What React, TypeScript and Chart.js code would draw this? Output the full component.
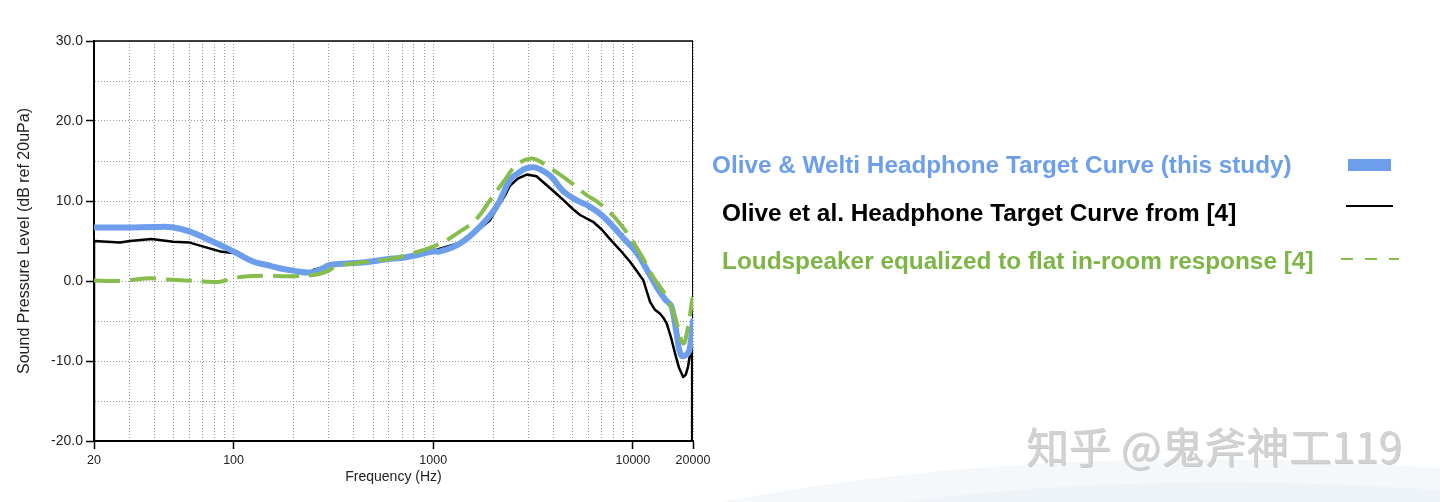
import React, { useEffect, useLayoutEffect, useRef } from "react";
import { Chart, registerables } from "chart.js";

Chart.register(...registerables);

// ---- data ----
const seriesNames = [
  "Olive & Welti Headphone Target Curve (this study)",
  "Olive et al. Headphone Target Curve from [4]",
  "Loudspeaker equalized to flat in-room response [4]",
];

const owFreq = [20, 30, 40, 50, 60, 79, 100, 126, 147, 170, 199, 241, 270, 304, 368, 444, 542, 628, 706, 850, 1000, 1084, 1364, 1716, 2074, 2420, 2700, 2936, 3230, 3690, 3980, 4490, 5220, 6080, 7000, 7960, 9000, 10460, 12000, 13120, 14500, 15600, 16540, 17480, 18900, 19500, 20000];
const owDb = [6.7, 6.7, 6.75, 6.7, 6.2, 4.9, 3.7, 2.4, 2.0, 1.6, 1.3, 1.05, 1.4, 2.0, 2.2, 2.3, 2.6, 2.8, 2.9, 3.3, 3.7, 3.7, 4.7, 6.8, 9.3, 12.6, 13.6, 14.1, 14.2, 13.5, 12.8, 11.2, 10.1, 9.3, 8.2, 6.8, 5.3, 3.5, 1.0, -0.7, -2.3, -3.2, -6.5, -9.3, -9.0, -7.5, -5.0];

const olFreq = [20, 20, 27, 30.3, 38.9, 49.8, 60.4, 70.6, 85.6, 100, 113, 126, 147, 170, 199, 241, 252, 300, 368, 444, 542, 706, 850, 1000, 1364, 1716, 1925, 2100, 2290, 2420, 2650, 2936, 3290, 3690, 4100, 4490, 5000, 5440, 6320, 7000, 7640, 8600, 9680, 10500, 11280, 11800, 12190, 12900, 13700, 14300, 14760, 15500, 16240, 17000, 17860, 18400, 18900, 19460, 19800, 19800];
const olDb = [-20, 5.0, 4.8, 5.0, 5.25, 4.9, 4.8, 4.3, 3.7, 3.5, 2.8, 2.3, 1.9, 1.6, 1.3, 1.05, 1.4, 1.9, 2.1, 2.3, 2.7, 3.0, 3.4, 3.8, 4.8, 6.6, 7.6, 9.2, 10.7, 11.9, 12.8, 13.3, 13.1, 12.0, 11.0, 10.1, 9.0, 8.25, 7.4, 6.4, 5.3, 3.9, 2.4, 1.2, 0.1, -1.5, -2.6, -3.6, -4.1, -4.7, -5.3, -7.0, -9.0, -10.8, -12.0, -11.7, -10.7, -8.6, -7.5, -20];

const lsFreq = [20, 24.9, 30, 38, 45, 54, 70.6, 85.6, 104, 147, 184, 252, 292, 330, 400, 500, 600, 734, 1044, 1364, 1652, 1925, 2250, 2612, 3100, 3500, 3980, 4840, 5860, 6820, 8600, 10840, 12640, 14760, 16240, 17860, 18900, 19800, 20000];
const lsDb = [0.05, 0.0, 0.1, 0.33, 0.2, 0.1, -0.05, -0.1, 0.45, 0.67, 0.6, 0.75, 1.16, 1.9, 2.2, 2.5, 2.7, 3.25, 4.5, 6.2, 7.8, 10.1, 12.4, 14.5, 15.3, 14.8, 13.9, 12.4, 10.75, 9.7, 7.2, 3.5, 0.5, -2.0, -4.5, -7.8, -5.7, -2.4, -2.0];

const xGridTicks = [20, 30, 40, 50, 60, 70, 80, 90, 100, 200, 300, 400, 500, 600, 700, 800, 900, 1000, 2000, 3000, 4000, 5000, 6000, 7000, 8000, 9000, 10000, 20000];
const xLabelTicks = [20, 100, 1000, 10000, 20000];
const yTicks = [-20, -15, -10, -5, 0, 5, 10, 15, 20, 25, 30];
const yLabelTicks = [-20, -10, 0, 10, 20, 30];

const xTitle = "Frequency (Hz)";
const yTitle = "Sound Pressure Level (dB ref 20uPa)";
const watermark = "知乎 @鬼斧神工119";

// ---- styles ----
const BLUE = "#6D9EEB";
const GREEN = "#86BD4C";
const FONT = "'Liberation Sans', Arial, sans-serif";

const legendX = [712, 722, 722];
const legendW = [580, 514, 591];
const legendY = [165, 213, 261];
const legendColor = [BLUE, "#000", "#7DB546"];

const framePlugin = {
  id: "frame",
  beforeDatasetsDraw(chart: any) {
    const { ctx, chartArea } = chart;
    const { left, right, top, bottom } = chartArea;
    ctx.save();
    ctx.strokeStyle = "#000";
    ctx.lineWidth = 1.5;
    ctx.beginPath();
    ctx.moveTo(left, top);
    ctx.lineTo(right, top);
    ctx.stroke();
    ctx.lineWidth = 1;
    ctx.beginPath();
    ctx.moveTo(right - 0.5, top);
    ctx.lineTo(right - 0.5, bottom);
    ctx.stroke();
    ctx.restore();
  },
};

export default function App() {
  const canvasRef = useRef<HTMLCanvasElement>(null);
  const textRefs = useRef<(HTMLDivElement | null)[]>([]);
  const wmRef = useRef<HTMLDivElement>(null);

  useLayoutEffect(() => {
    document.body.style.margin = "0";
    const fit = () => {
      textRefs.current.forEach((el, i) => {
        if (!el) return;
        el.style.transform = "translateY(-50%)";
        const w = el.offsetWidth;
        el.style.transform = `translateY(-50%) scaleX(${legendW[i] / w})`;
      });
      const wm = wmRef.current;
      if (wm) {
        wm.style.transform = "translateY(-50%)";
        const w = wm.offsetWidth;
        wm.style.transform = `translateY(-50%) scaleX(${376 / w})`;
      }
    };
    fit();
    (document as any).fonts?.ready?.then(fit);
  }, []);

  useEffect(() => {
    const canvas = canvasRef.current!;
    const toPts = (f: number[], d: number[]) => f.map((x, i) => ({ x, y: d[i] }));
    const chart = new Chart(canvas, {
      type: "line",
      data: {
        datasets: [
          {
            label: seriesNames[0],
            data: toPts(owFreq, owDb),
            borderColor: BLUE,
            backgroundColor: BLUE,
            borderWidth: 6,
            tension: 0.4,
            pointRadius: 0,
            borderCapStyle: "round",
            borderJoinStyle: "round",
            order: 1,
          },
          {
            label: seriesNames[1],
            data: toPts(olFreq, olDb),
            borderColor: "#000",
            backgroundColor: "#000",
            borderWidth: 2.5,
            tension: 0,
            pointRadius: 0,
            borderJoinStyle: "round",
            order: 2,
          },
          {
            label: seriesNames[2],
            data: toPts(lsFreq, lsDb),
            borderColor: GREEN,
            backgroundColor: GREEN,
            borderWidth: 4,
            borderDash: [26, 10],
            tension: 0.4,
            pointRadius: 0,
            order: 0,
          },
        ],
      },
      options: {
        responsive: false,
        animation: false,
        events: [],
        layout: { padding: { left: 0, right: 747, top: 41, bottom: 0 } },
        plugins: { legend: { display: false }, tooltip: { enabled: false } },
        scales: {
          x: {
            type: "logarithmic",
            min: 20,
            max: 20000,
            afterBuildTicks: (s: any) => {
              s.ticks = xGridTicks.map((v) => ({ value: v }));
            },
            afterFit: (s: any) => {
              s.height = 61;
            },
            ticks: {
              autoSkip: false,
              maxRotation: 0,
              padding: 4,
              color: "#222",
              font: { family: FONT, size: 12.5 },
              callback: (v: any) => (xLabelTicks.includes(Number(v)) ? String(v) : ""),
            },
            grid: {
              color: "#9a9a9a",
              lineWidth: 1,
              tickLength: 8,
              tickWidth: 1.5,
              tickBorderDash: [],
              tickColor: (c: any) => (c.tick && xLabelTicks.includes(c.tick.value) ? "#000" : "rgba(0,0,0,0)"),
            },
            border: { display: true, color: "#000", width: 2, dash: [1, 2] },
            title: {
              display: true,
              text: xTitle,
              color: "#222",
              font: { family: FONT, size: 14 },
              padding: { top: 0, bottom: 16.6 },
            },
          },
          y: {
            type: "linear",
            min: -20,
            max: 30,
            afterBuildTicks: (s: any) => {
              s.ticks = yTicks.map((v) => ({ value: v }));
            },
            afterFit: (s: any) => {
              s.width = 94;
            },
            ticks: {
              padding: 3,
              color: "#222",
              font: { family: FONT, size: 14 },
              callback: (v: any) => (yLabelTicks.includes(Number(v)) ? Number(v).toFixed(1) : ""),
            },
            grid: {
              color: "#9a9a9a",
              lineWidth: 1,
              tickLength: 8,
              tickWidth: 1.5,
              tickBorderDash: [],
              tickColor: (c: any) => (c.tick && yLabelTicks.includes(c.tick.value) ? "#000" : "rgba(0,0,0,0)"),
            },
            border: { display: true, color: "#000", width: 2, dash: [1, 2] },
            title: {
              display: true,
              text: yTitle,
              color: "#222",
              font: { family: FONT, size: 16 },
              padding: { top: 15, bottom: 0 },
            },
          },
        },
      } as any,
      plugins: [framePlugin],
    });
    return () => chart.destroy();
  }, []);

  return (
    <div style={{ position: "relative", width: 1440, height: 502, background: "#fff", overflow: "hidden" }}>
      <svg width={1440} height={502} style={{ position: "absolute", left: 0, top: 0 }}>
        <path d="M 720 502 Q 1050 440 1440 468 L 1440 502 Z" fill="#f5f8fb" />
        <path d="M 900 502 Q 1150 470 1440 490 L 1440 502 Z" fill="#eef3f8" />
      </svg>
      <canvas ref={canvasRef} width={1440} height={502} style={{ position: "absolute", left: 0, top: 0 }} />
      {seriesNames.map((name, i) => (
        <div
          key={name}
          ref={(el) => {
            textRefs.current[i] = el;
          }}
          style={{
            position: "absolute",
            left: legendX[i],
            top: legendY[i],
            fontFamily: FONT,
            fontWeight: "bold",
            fontSize: 23,
            lineHeight: 1,
            whiteSpace: "nowrap",
            color: legendColor[i],
            transformOrigin: "left center",
            transform: "translateY(-50%)",
          }}
        >
          {name}
        </div>
      ))}
      <div style={{ position: "absolute", left: 1348, top: 159, width: 43, height: 12, background: BLUE }} />
      <div style={{ position: "absolute", left: 1346, top: 205, width: 47, height: 2, background: "#000" }} />
      <div
        style={{
          position: "absolute",
          left: 1341,
          top: 258,
          width: 58,
          height: 2,
          background: `repeating-linear-gradient(to right, ${GREEN} 0px, ${GREEN} 12.5px, transparent 12.5px, transparent 24px)`,
        }}
      />
      <div
        ref={wmRef}
        style={{
          position: "absolute",
          left: 1026,
          top: 445,
          fontFamily: "'Noto Sans CJK SC', sans-serif",
          fontSize: 42,
          lineHeight: 1,
          whiteSpace: "nowrap",
          color: "#d2d2d2",
          textShadow: "1px 1px 0 rgba(150,150,150,0.5)",
          transformOrigin: "left center",
          transform: "translateY(-50%)",
        }}
      >
        {watermark}
      </div>
    </div>
  );
}
